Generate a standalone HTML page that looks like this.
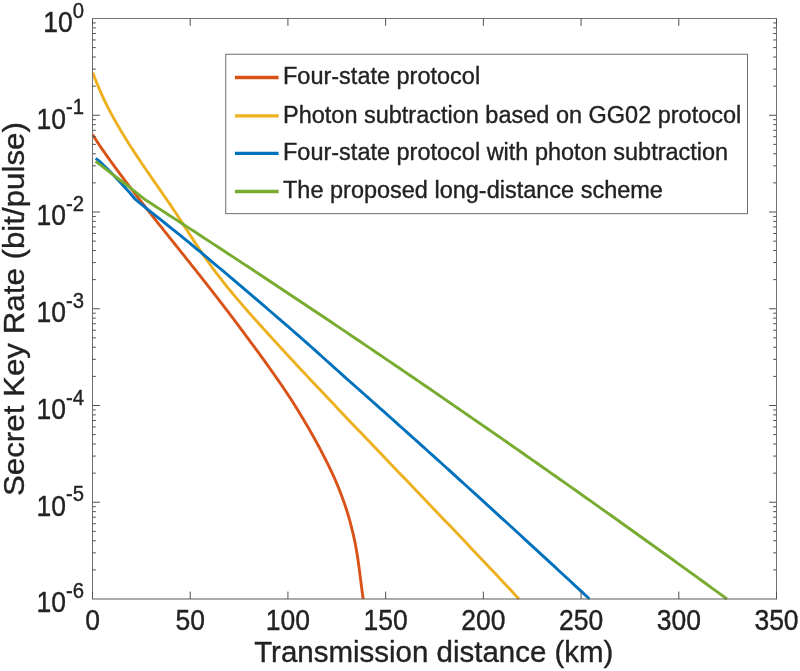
<!DOCTYPE html>
<html lang="en"><head><meta charset="utf-8"><title>Secret Key Rate vs Transmission distance</title>
<style>html,body{margin:0;padding:0;background:#fff}body{width:800px;height:671px;overflow:hidden}svg{display:block}text{font-family:"Liberation Sans",Arial,Helvetica,sans-serif;fill:#222222;stroke:#222222;stroke-width:0.35px;stroke-linejoin:round}</style></head><body>
<svg width="800" height="671" viewBox="0 0 800 671">
<rect x="0" y="0" width="800" height="671" fill="#ffffff"/>
<defs><clipPath id="c"><rect x="91.50" y="18.50" width="686.00" height="581.80"/></clipPath></defs>
<g clip-path="url(#c)" fill="none" stroke-width="2.9" stroke-linejoin="round" stroke-linecap="butt">
<path d="M92.65 134.60 L94.10 136.93 L95.58 139.27 L97.09 141.60 L98.63 143.93 L100.19 146.27 L101.78 148.60 L103.38 150.94 L105.01 153.27 L106.66 155.60 L108.32 157.94 L110.00 160.27 L111.69 162.60 L113.39 164.94 L115.10 167.27 L116.82 169.61 L118.55 171.94 L120.29 174.27 L122.03 176.61 L123.79 178.94 L125.55 181.27 L127.31 183.61 L129.09 185.94 L130.87 188.27 L132.66 190.61 L134.45 192.94 L136.25 195.28 L138.06 197.61 L139.87 199.94 L141.69 202.28 L143.51 204.61 L145.34 206.94 L147.17 209.28 L149.00 211.61 L150.84 213.94 L152.68 216.28 L154.53 218.61 L156.38 220.95 L158.23 223.28 L160.08 225.61 L161.94 227.95 L163.80 230.28 L165.66 232.61 L167.52 234.95 L169.38 237.28 L171.25 239.62 L173.11 241.95 L174.98 244.28 L176.84 246.62 L178.71 248.95 L180.57 251.28 L182.43 253.62 L184.30 255.95 L186.16 258.28 L188.02 260.62 L189.88 262.95 L191.74 265.29 L193.59 267.62 L195.44 269.95 L197.29 272.29 L199.14 274.62 L200.98 276.95 L202.82 279.29 L204.66 281.62 L206.49 283.95 L208.32 286.29 L210.15 288.62 L211.97 290.96 L213.79 293.29 L215.60 295.62 L217.41 297.96 L219.21 300.29 L221.01 302.62 L222.81 304.96 L224.60 307.29 L226.38 309.63 L228.16 311.96 L229.94 314.29 L231.71 316.63 L233.47 318.96 L235.23 321.29 L236.98 323.63 L238.73 325.96 L240.47 328.29 L242.20 330.63 L243.93 332.96 L245.65 335.30 L247.37 337.63 L249.08 339.96 L250.82 342.30 L252.56 344.63 L254.30 346.96 L256.02 349.30 L257.74 351.63 L259.45 353.96 L261.16 356.30 L262.85 358.63 L264.54 360.97 L266.22 363.30 L267.89 365.63 L269.55 367.97 L271.21 370.30 L272.86 372.63 L274.49 374.97 L276.12 377.30 L277.74 379.64 L279.35 381.97 L280.95 384.30 L282.54 386.64 L284.12 388.97 L285.70 391.30 L287.26 393.64 L288.81 395.97 L290.35 398.30 L291.87 400.64 L293.35 402.97 L294.81 405.31 L296.26 407.64 L297.71 409.97 L299.14 412.31 L300.56 414.64 L301.97 416.97 L303.37 419.31 L304.76 421.64 L306.13 423.97 L307.49 426.31 L308.85 428.64 L310.19 430.98 L311.51 433.31 L312.83 435.64 L314.13 437.98 L315.42 440.31 L316.70 442.64 L317.97 444.98 L319.22 447.31 L320.46 449.65 L321.68 451.98 L322.90 454.31 L324.10 456.65 L325.28 458.98 L326.45 461.31 L327.61 463.65 L328.76 465.98 L329.88 468.31 L331.00 470.65 L332.10 472.98 L333.19 475.32 L334.26 477.65 L335.31 479.98 L336.30 482.32 L337.26 484.65 L338.21 486.98 L339.15 489.32 L340.06 491.65 L340.96 493.98 L341.83 496.32 L342.69 498.65 L343.53 500.99 L344.35 503.32 L345.14 505.65 L345.92 507.99 L346.68 510.32 L347.41 512.65 L348.12 514.99 L348.81 517.32 L349.48 519.66 L350.12 521.99 L350.74 524.32 L351.34 526.66 L351.91 528.99 L352.48 531.32 L353.06 533.66 L353.61 535.99 L354.13 538.32 L354.63 540.66 L355.11 542.99 L355.56 545.33 L355.99 547.66 L356.41 549.99 L356.80 552.33 L357.18 554.66 L357.55 556.99 L357.90 559.33 L358.24 561.66 L358.57 563.99 L358.89 566.33 L359.20 568.66 L359.50 571.00 L359.80 573.33 L360.10 575.66 L360.40 578.00 L360.69 580.33 L360.99 582.66 L361.28 585.00 L361.59 587.33 L361.89 589.67 L362.21 592.00 L362.53 594.33 L362.86 596.67 L363.20 599.00" stroke="#D95319"/>
<path d="M92.75 72.50 L94.89 78.22 L97.03 83.64 L99.18 88.79 L101.32 93.68 L103.46 98.34 L105.60 102.80 L107.74 107.07 L109.89 111.19 L112.03 115.17 L114.17 119.05 L116.31 122.84 L118.45 126.55 L120.60 130.20 L122.74 133.78 L124.88 137.30 L127.02 140.76 L129.16 144.17 L131.31 147.53 L133.45 150.85 L135.59 154.12 L137.73 157.36 L139.87 160.56 L142.02 163.73 L144.16 166.89 L146.30 170.02 L148.44 173.13 L150.58 176.23 L152.72 179.32 L154.87 182.41 L157.01 185.50 L159.15 188.58 L161.29 191.68 L163.43 194.78 L165.58 197.89 L167.72 201.01 L169.86 204.16 L172.00 207.33 L174.14 210.52 L176.29 213.74 L178.43 216.99 L180.57 220.27 L182.71 223.57 L184.85 226.88 L187.00 230.20 L189.14 233.52 L191.28 236.84 L193.42 240.14 L195.56 243.41 L197.71 246.66 L199.85 249.87 L201.99 253.04 L204.13 256.16 L206.27 259.23 L208.42 262.25 L210.56 265.23 L212.70 268.15 L214.84 271.04 L216.98 273.88 L219.13 276.69 L221.27 279.45 L223.41 282.18 L225.55 284.88 L227.69 287.54 L229.84 290.17 L231.98 292.77 L234.12 295.34 L236.26 297.89 L238.40 300.41 L240.55 302.91 L242.69 305.39 L244.83 307.86 L246.97 310.30 L249.11 312.73 L251.26 315.15 L253.40 317.55 L255.54 319.95 L257.68 322.33 L259.82 324.71 L261.96 327.09 L264.11 329.45 L266.25 331.82 L268.39 334.17 L270.53 336.53 L272.67 338.88 L274.82 341.22 L276.96 343.56 L279.10 345.89 L281.24 348.22 L283.38 350.55 L285.53 352.87 L287.67 355.18 L289.81 357.50 L291.95 359.81 L294.09 362.11 L296.24 364.41 L298.38 366.71 L300.52 369.01 L302.66 371.30 L304.80 373.59 L306.95 375.87 L309.09 378.16 L311.23 380.44 L313.37 382.71 L315.51 384.99 L317.66 387.26 L319.80 389.53 L321.94 391.80 L324.08 394.07 L326.22 396.33 L328.37 398.59 L330.51 400.85 L332.65 403.11 L334.79 405.37 L336.93 407.63 L339.08 409.88 L341.22 412.14 L343.36 414.39 L345.50 416.64 L347.64 418.89 L349.79 421.14 L351.93 423.39 L354.07 425.64 L356.21 427.88 L358.35 430.13 L360.49 432.37 L362.64 434.61 L364.78 436.86 L366.92 439.10 L369.06 441.34 L371.20 443.58 L373.35 445.82 L375.49 448.06 L377.63 450.29 L379.77 452.53 L381.91 454.77 L384.06 457.00 L386.20 459.24 L388.34 461.48 L390.48 463.71 L392.62 465.95 L394.77 468.18 L396.91 470.42 L399.05 472.65 L401.19 474.89 L403.33 477.12 L405.48 479.36 L407.62 481.59 L409.76 483.83 L411.90 486.06 L414.04 488.30 L416.19 490.53 L418.33 492.77 L420.47 495.00 L422.61 497.24 L424.75 499.48 L426.90 501.71 L429.04 503.95 L431.18 506.19 L433.32 508.43 L435.46 510.67 L437.61 512.91 L439.75 515.15 L441.89 517.39 L444.03 519.64 L446.17 521.88 L448.32 524.12 L450.46 526.37 L452.60 528.62 L454.74 530.86 L456.88 533.11 L459.03 535.36 L461.17 537.61 L463.31 539.86 L465.45 542.12 L467.59 544.37 L469.73 546.63 L471.88 548.89 L474.02 551.15 L476.16 553.41 L478.30 555.67 L480.44 557.93 L482.59 560.20 L484.73 562.46 L486.87 564.73 L489.01 567.00 L491.15 569.28 L493.30 571.55 L495.44 573.83 L497.58 576.10 L499.72 578.38 L501.86 580.67 L504.01 582.95 L506.15 585.24 L508.29 587.52 L510.43 589.81 L512.57 592.11 L514.72 594.40 L516.86 596.70 L519.00 599.00" stroke="#EDB120"/>
<path d="M95.70 158.40 L100.00 161.70 L110.00 171.50 L120.00 182.00 L130.00 193.00 L135.20 199.20 L139.02 202.30 L142.84 205.42 L146.65 208.53 L150.47 211.64 L154.29 214.66 L158.11 217.69 L161.92 220.72 L165.74 223.75 L169.56 226.79 L173.38 229.84 L177.19 232.89 L181.01 235.94 L184.83 239.01 L188.65 242.18 L192.46 245.36 L196.28 248.54 L200.10 251.73 L203.92 254.93 L207.74 258.13 L211.55 261.33 L215.37 264.54 L219.19 267.76 L223.01 270.98 L226.82 274.20 L230.64 277.43 L234.46 280.67 L238.28 283.91 L242.09 287.15 L245.91 290.40 L249.73 293.65 L253.55 296.91 L257.36 300.17 L261.18 303.44 L265.00 306.71 L268.82 309.99 L272.64 313.27 L276.45 316.55 L280.27 319.84 L284.09 323.13 L287.91 326.43 L291.72 329.73 L295.54 333.04 L299.36 336.35 L303.18 339.74 L306.99 343.14 L310.81 346.54 L314.63 349.95 L318.45 353.37 L322.26 356.79 L326.08 360.21 L329.90 363.63 L333.72 367.06 L337.54 370.50 L341.35 373.94 L345.17 377.38 L348.99 380.76 L352.81 384.13 L356.62 387.50 L360.44 390.87 L364.26 394.25 L368.08 397.63 L371.89 401.01 L375.71 404.40 L379.53 407.80 L383.35 411.19 L387.16 414.59 L390.98 417.99 L394.80 421.40 L398.62 424.81 L402.44 428.22 L406.25 431.64 L410.07 435.06 L413.89 438.48 L417.71 441.91 L421.52 445.34 L425.34 448.77 L429.16 452.21 L432.98 455.65 L436.79 459.09 L440.61 462.54 L444.43 465.98 L448.25 469.44 L452.06 472.89 L455.88 476.35 L459.70 479.81 L463.52 483.27 L467.34 486.74 L471.15 490.21 L474.97 493.68 L478.79 497.15 L482.61 500.63 L486.42 504.11 L490.24 507.60 L494.06 511.08 L497.88 514.57 L501.69 518.06 L505.51 521.55 L509.33 525.05 L513.15 528.55 L516.96 532.05 L520.78 535.55 L524.60 539.06 L528.42 542.57 L532.24 546.08 L536.05 549.59 L539.87 553.11 L543.69 556.62 L547.51 560.14 L551.32 563.67 L555.14 567.19 L558.96 570.72 L562.78 574.24 L566.59 577.77 L570.41 581.31 L574.23 584.84 L578.05 588.38 L581.86 591.92 L585.68 595.46 L589.50 599.00" stroke="#0072BD"/>
<path d="M95.50 161.40 L100.00 164.60 L110.00 172.30 L120.00 180.00 L130.00 187.70 L140.00 195.60 L145.50 199.90 L150.39 203.05 L155.27 206.21 L160.16 209.37 L165.05 212.53 L169.93 215.70 L174.82 218.87 L179.71 222.04 L184.59 225.22 L189.48 228.40 L194.37 231.58 L199.25 234.77 L204.14 237.96 L209.03 241.15 L213.91 244.35 L218.80 247.55 L223.68 250.75 L228.57 253.96 L233.46 257.16 L238.34 260.38 L243.23 263.59 L248.12 266.81 L253.00 270.04 L257.89 273.26 L262.78 276.49 L267.66 279.73 L272.55 282.96 L277.44 286.20 L282.32 289.44 L287.21 292.69 L292.10 295.94 L296.98 299.19 L301.87 302.45 L306.76 305.71 L311.64 308.97 L316.53 312.24 L321.42 315.51 L326.30 318.78 L331.19 322.06 L336.08 325.34 L340.96 328.63 L345.85 331.91 L350.74 335.20 L355.62 338.50 L360.51 341.79 L365.39 345.10 L370.28 348.40 L375.17 351.71 L380.05 355.02 L384.94 358.33 L389.83 361.65 L394.71 364.97 L399.60 368.30 L404.49 371.62 L409.37 374.96 L414.26 378.29 L419.15 381.63 L424.03 384.97 L428.92 388.32 L433.81 391.66 L438.69 395.02 L443.58 398.37 L448.47 401.73 L453.35 405.09 L458.24 408.46 L463.13 411.83 L468.01 415.20 L472.90 418.58 L477.79 421.96 L482.67 425.34 L487.56 428.73 L492.45 432.12 L497.33 435.51 L502.22 438.91 L507.11 442.31 L511.99 445.72 L516.88 449.12 L521.76 452.53 L526.65 455.95 L531.54 459.37 L536.42 462.79 L541.31 466.21 L546.20 469.64 L551.08 473.08 L555.97 476.51 L560.86 479.95 L565.74 483.39 L570.63 486.84 L575.52 490.29 L580.40 493.74 L585.29 497.20 L590.18 500.66 L595.06 504.12 L599.95 507.59 L604.84 511.06 L609.72 514.54 L614.61 518.02 L619.50 521.50 L624.38 524.98 L629.27 528.47 L634.16 531.96 L639.04 535.46 L643.93 538.96 L648.82 542.46 L653.70 545.97 L658.59 549.48 L663.47 552.99 L668.36 556.51 L673.25 560.03 L678.13 563.56 L683.02 567.08 L687.91 570.62 L692.79 574.15 L697.68 577.69 L702.57 581.23 L707.45 584.78 L712.34 588.33 L717.23 591.88 L722.11 595.44 L727.00 599.00" stroke="#77AC30"/>
</g>
<g stroke="#727272" stroke-width="1" fill="none">
<path d="M92.50 599.00 V18.50 H776.50 V599.00"/>
<path d="M92.00 599.00 H777.00" stroke="#5a5a5a" stroke-width="1.2"/>
<path d="M92.50 599.00 v-7.40 M92.50 18.50 v7.40 M190.21 599.00 v-7.40 M190.21 18.50 v7.40 M287.93 599.00 v-7.40 M287.93 18.50 v7.40 M385.64 599.00 v-7.40 M385.64 18.50 v7.40 M483.36 599.00 v-7.40 M483.36 18.50 v7.40 M581.07 599.00 v-7.40 M581.07 18.50 v7.40 M678.79 599.00 v-7.40 M678.79 18.50 v7.40 M776.50 599.00 v-7.40 M776.50 18.50 v7.40 M92.50 86.13 h3.30 M776.50 86.13 h-3.30 M92.50 69.09 h3.30 M776.50 69.09 h-3.30 M92.50 57.00 h3.30 M776.50 57.00 h-3.30 M92.50 47.62 h3.30 M776.50 47.62 h-3.30 M92.50 39.96 h3.30 M776.50 39.96 h-3.30 M92.50 33.49 h3.30 M776.50 33.49 h-3.30 M92.50 27.88 h3.30 M776.50 27.88 h-3.30 M92.50 22.93 h3.30 M776.50 22.93 h-3.30 M92.50 115.25 h7.40 M776.50 115.25 h-7.40 M92.50 182.88 h3.30 M776.50 182.88 h-3.30 M92.50 165.84 h3.30 M776.50 165.84 h-3.30 M92.50 153.75 h3.30 M776.50 153.75 h-3.30 M92.50 144.37 h3.30 M776.50 144.37 h-3.30 M92.50 136.71 h3.30 M776.50 136.71 h-3.30 M92.50 130.24 h3.30 M776.50 130.24 h-3.30 M92.50 124.63 h3.30 M776.50 124.63 h-3.30 M92.50 119.68 h3.30 M776.50 119.68 h-3.30 M92.50 212.00 h7.40 M776.50 212.00 h-7.40 M92.50 279.63 h3.30 M776.50 279.63 h-3.30 M92.50 262.59 h3.30 M776.50 262.59 h-3.30 M92.50 250.50 h3.30 M776.50 250.50 h-3.30 M92.50 241.12 h3.30 M776.50 241.12 h-3.30 M92.50 233.46 h3.30 M776.50 233.46 h-3.30 M92.50 226.99 h3.30 M776.50 226.99 h-3.30 M92.50 221.38 h3.30 M776.50 221.38 h-3.30 M92.50 216.43 h3.30 M776.50 216.43 h-3.30 M92.50 308.75 h7.40 M776.50 308.75 h-7.40 M92.50 376.38 h3.30 M776.50 376.38 h-3.30 M92.50 359.34 h3.30 M776.50 359.34 h-3.30 M92.50 347.25 h3.30 M776.50 347.25 h-3.30 M92.50 337.87 h3.30 M776.50 337.87 h-3.30 M92.50 330.21 h3.30 M776.50 330.21 h-3.30 M92.50 323.74 h3.30 M776.50 323.74 h-3.30 M92.50 318.13 h3.30 M776.50 318.13 h-3.30 M92.50 313.18 h3.30 M776.50 313.18 h-3.30 M92.50 405.50 h7.40 M776.50 405.50 h-7.40 M92.50 473.13 h3.30 M776.50 473.13 h-3.30 M92.50 456.09 h3.30 M776.50 456.09 h-3.30 M92.50 444.00 h3.30 M776.50 444.00 h-3.30 M92.50 434.62 h3.30 M776.50 434.62 h-3.30 M92.50 426.96 h3.30 M776.50 426.96 h-3.30 M92.50 420.49 h3.30 M776.50 420.49 h-3.30 M92.50 414.88 h3.30 M776.50 414.88 h-3.30 M92.50 409.93 h3.30 M776.50 409.93 h-3.30 M92.50 502.25 h7.40 M776.50 502.25 h-7.40 M92.50 569.88 h3.30 M776.50 569.88 h-3.30 M92.50 552.84 h3.30 M776.50 552.84 h-3.30 M92.50 540.75 h3.30 M776.50 540.75 h-3.30 M92.50 531.37 h3.30 M776.50 531.37 h-3.30 M92.50 523.71 h3.30 M776.50 523.71 h-3.30 M92.50 517.24 h3.30 M776.50 517.24 h-3.30 M92.50 511.63 h3.30 M776.50 511.63 h-3.30 M92.50 506.68 h3.30 M776.50 506.68 h-3.30" stroke="#505050"/>
</g>
<text transform="translate(92.50 629.7) scale(1 1.110)" font-size="26.50" text-anchor="middle">0</text>
<text transform="translate(190.21 629.7) scale(1 1.110)" font-size="26.50" text-anchor="middle">50</text>
<text transform="translate(287.93 629.7) scale(1 1.110)" font-size="26.50" text-anchor="middle">100</text>
<text transform="translate(385.64 629.7) scale(1 1.110)" font-size="26.50" text-anchor="middle">150</text>
<text transform="translate(483.36 629.7) scale(1 1.110)" font-size="26.50" text-anchor="middle">200</text>
<text transform="translate(581.07 629.7) scale(1 1.110)" font-size="26.50" text-anchor="middle">250</text>
<text transform="translate(678.79 629.7) scale(1 1.110)" font-size="26.50" text-anchor="middle">300</text>
<text transform="translate(776.50 629.7) scale(1 1.110)" font-size="26.50" text-anchor="middle">350</text>
<text transform="translate(84 31.80) scale(1 1.110)" font-size="26.50" text-anchor="end">10<tspan font-size="20.30" dy="-12.8">0</tspan></text>
<text transform="translate(84 128.55) scale(1 1.110)" font-size="26.50" text-anchor="end">10<tspan font-size="20.30" dy="-12.8">-1</tspan></text>
<text transform="translate(84 225.30) scale(1 1.110)" font-size="26.50" text-anchor="end">10<tspan font-size="20.30" dy="-12.8">-2</tspan></text>
<text transform="translate(84 322.05) scale(1 1.110)" font-size="26.50" text-anchor="end">10<tspan font-size="20.30" dy="-12.8">-3</tspan></text>
<text transform="translate(84 418.80) scale(1 1.110)" font-size="26.50" text-anchor="end">10<tspan font-size="20.30" dy="-12.8">-4</tspan></text>
<text transform="translate(84 515.55) scale(1 1.110)" font-size="26.50" text-anchor="end">10<tspan font-size="20.30" dy="-12.8">-5</tspan></text>
<text transform="translate(84 612.30) scale(1 1.110)" font-size="26.50" text-anchor="end">10<tspan font-size="20.30" dy="-12.8">-6</tspan></text>
<text transform="translate(433.8 661.7) scale(1 1.010)" font-size="29.50" text-anchor="middle">Transmission distance (km)</text>
<text transform="translate(24.1 309.1) rotate(-90) scale(1.033 1)" font-size="30.30" text-anchor="middle">Secret Key Rate (bit/pulse)</text>
<rect x="225.75" y="54.25" width="521.75" height="159.4" fill="#ffffff" stroke="#6e6e6e" stroke-width="1"/>
<path d="M234.9 77.50 H278.6" stroke="#D95319" stroke-width="3.4" fill="none"/>
<text transform="translate(283 84.15) scale(1 1.055)" font-size="23.50">Four-state protocol</text>
<path d="M234.9 115.90 H278.6" stroke="#EDB120" stroke-width="3.4" fill="none"/>
<text transform="translate(283 122.55) scale(1 1.055)" font-size="23.50">Photon subtraction based on GG02 protocol</text>
<path d="M234.9 153.40 H278.6" stroke="#0072BD" stroke-width="3.4" fill="none"/>
<text transform="translate(283 160.05) scale(1 1.055)" font-size="23.50">Four-state protocol with photon subtraction</text>
<path d="M234.9 191.55 H278.6" stroke="#77AC30" stroke-width="3.4" fill="none"/>
<text transform="translate(283 198.20) scale(1 1.055)" font-size="23.50">The proposed long-distance scheme</text>
</svg></body></html>
